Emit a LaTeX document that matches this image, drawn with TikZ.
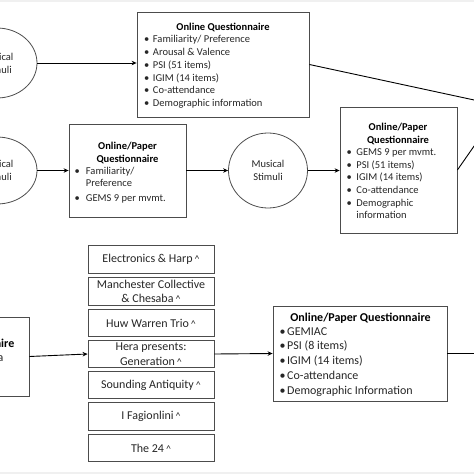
\documentclass[tikz,border=0pt]{standalone}
\usepackage{fontspec}
\setmainfont{Carlito}
\usetikzlibrary{shapes.geometric,arrows.meta}
\newcommand{\hatmark}{\,{\fontsize{10}{10}\selectfont\textasciicircum}}
\begin{document}
\begin{tikzpicture}[x=1pt,y=-1pt,
  box/.style={draw=black!70, line width=0.8pt, rectangle, inner sep=0pt},
  oval/.style={draw=black!70, line width=0.8pt, ellipse, inner sep=0pt, align=center, text=black!85, font=\fontsize{10.5}{13}\selectfont},
  conn/.style={line width=0.9pt, draw=black},
  arr/.style={conn, -{Stealth[length=5pt,width=4.5pt]}},
  txt/.style={inner sep=0pt, text=black!85, font=\fontsize{10.5}{12.8}\selectfont},
  ttl/.style={inner sep=0pt, text=black, font=\fontsize{10.5}{13}\selectfont\bfseries},
  sbox/.style={box, minimum width=126pt, minimum height=27.5pt, align=center, text=black!85, font=\fontsize{12}{14.5}\selectfont}
]
\useasboundingbox (0,0) rectangle (474,474);
\clip (0,0) rectangle (474,474);
\fill[black!6] (0,0) rectangle (474,2);
\fill[black!6] (0,472) rectangle (474,474);

% ---------- top row ----------
\node[oval, minimum width=80pt, minimum height=70pt] (e1) at (-3,63) {Musical\\Stimuli};
\node[box, minimum width=172pt, minimum height=105pt] (q1) at (223,64.5) {};
\node[ttl, anchor=base] (q1t) at (223,30.6) {Online Questionnaire};
\node[txt, anchor=base west] (q1l) at (144,42.6) {\begin{tabular}[t]{@{}l@{\hspace{3.5pt}}l@{}}
\textbullet & Familiarity/ Preference\\
\textbullet & Arousal \& Valence\\
\textbullet & PSI (51 items)\\
\textbullet & IGIM (14 items)\\
\textbullet & Co-attendance\\
\textbullet & Demographic information
\end{tabular}};

% ---------- middle row ----------
\node[oval, minimum width=80pt, minimum height=67pt] (e2) at (-3,170.5) {Musical\\Stimuli};
\node[box, minimum width=117pt, minimum height=93pt] (q2) at (127.5,170.5) {};
\node[ttl, anchor=base] (q2t) at (127.5,149.6) {\begin{tabular}[t]{@{}c@{}}Online/Paper\\Questionnaire\end{tabular}};
\node[txt, anchor=base west, font=\fontsize{10.5}{12}\selectfont] (q2l) at (74.5,174.6) {\begin{tabular}[t]{@{}l@{\hspace{6pt}}l@{}}
\textbullet & Familiarity/\\
 & Preference\\[2.5pt]
\textbullet & GEMS 9 per mvmt.
\end{tabular}};
\node[oval, minimum width=79pt, minimum height=75pt] (e3) at (268,170.5) {Musical\\Stimuli};
\node[box, minimum width=117pt, minimum height=126pt] (q4) at (398.5,170) {};
\node[ttl, anchor=base] (q4t) at (398,130.6) {\begin{tabular}[t]{@{}c@{}}Online/Paper\\Questionnaire\end{tabular}};
\node[txt, anchor=base west, font=\fontsize{10.5}{12.6}\selectfont] (q4l) at (346.5,155.6) {\begin{tabular}[t]{@{}l@{\hspace{4.5pt}}l@{}}
\textbullet & GEMS 9 per mvmt.\\
\textbullet & PSI (51 items)\\
\textbullet & IGIM (14 items)\\
\textbullet & Co-attendance\\
\textbullet & Demographic\\
 & information
\end{tabular}};

\coordinate (m) at (502,106);
\draw[conn] (q1.east) -- (m);
\draw[conn] (q4.east) -- (m);
\draw[arr] (e1.east) -- (q1.west |- e1.east);
\draw[arr] (e2.east) -- (q2.west |- e2.east);
\draw[arr] (q2.east) -- (e3.west |- q2.east);
\draw[arr] (e3.east) -- (q4.west |- e3.east);

% ---------- bottom row ----------
\node[box, minimum width=119pt, minimum height=79pt] (q5) at (-30.5,356.5) {};
\node[ttl, anchor=base east, font=\fontsize{12}{14}\selectfont\bfseries] (q5t) at (14.5,347) {Questionnaire};
\node[txt, anchor=base east, font=\fontsize{12}{14}\selectfont] (q5l) at (3.5,361) {a};

\node[sbox] (s1) at (151,259.5) {Electronics \& Harp\hatmark};
\node[sbox] (s2) at (151,291.5) {Manchester Collective\\\& Chesaba\hatmark};
\node[sbox] (s3) at (151,323) {Huw Warren Trio\hatmark};
\node[sbox] (s4) at (151,354) {Hera presents:\\Generation\hatmark};
\node[sbox] (s5) at (151,385) {Sounding Antiquity\hatmark};
\node[sbox] (s6) at (151,416.5) {I Fagionlini\hatmark};
\node[sbox] (s7) at (151,448) {The 24\hatmark};

\node[box, minimum width=174pt, minimum height=95pt] (qf) at (360,353.5) {};
\node[ttl, anchor=base, font=\fontsize{12}{14}\selectfont\bfseries] (qft) at (360.5,321) {Online/Paper Questionnaire};
\node[txt, anchor=base west, font=\fontsize{12}{14.8}\selectfont] (qfl) at (279.5,335) {\begin{tabular}[t]{@{}l@{\hspace{1.5pt}}l@{}}
\textbullet & GEMIAC\\
\textbullet & PSI (8 items)\\
\textbullet & IGIM (14 items)\\
\textbullet & Co-attendance\\
\textbullet & Demographic Information
\end{tabular}};
\coordinate (out) at (490,353.5);

\draw[arr] (q5.east) -- (s4.west);
\draw[arr] (s4.east) -- (qf.west);
\draw[conn] (qf.east) -- (out);
\end{tikzpicture}
\end{document}
